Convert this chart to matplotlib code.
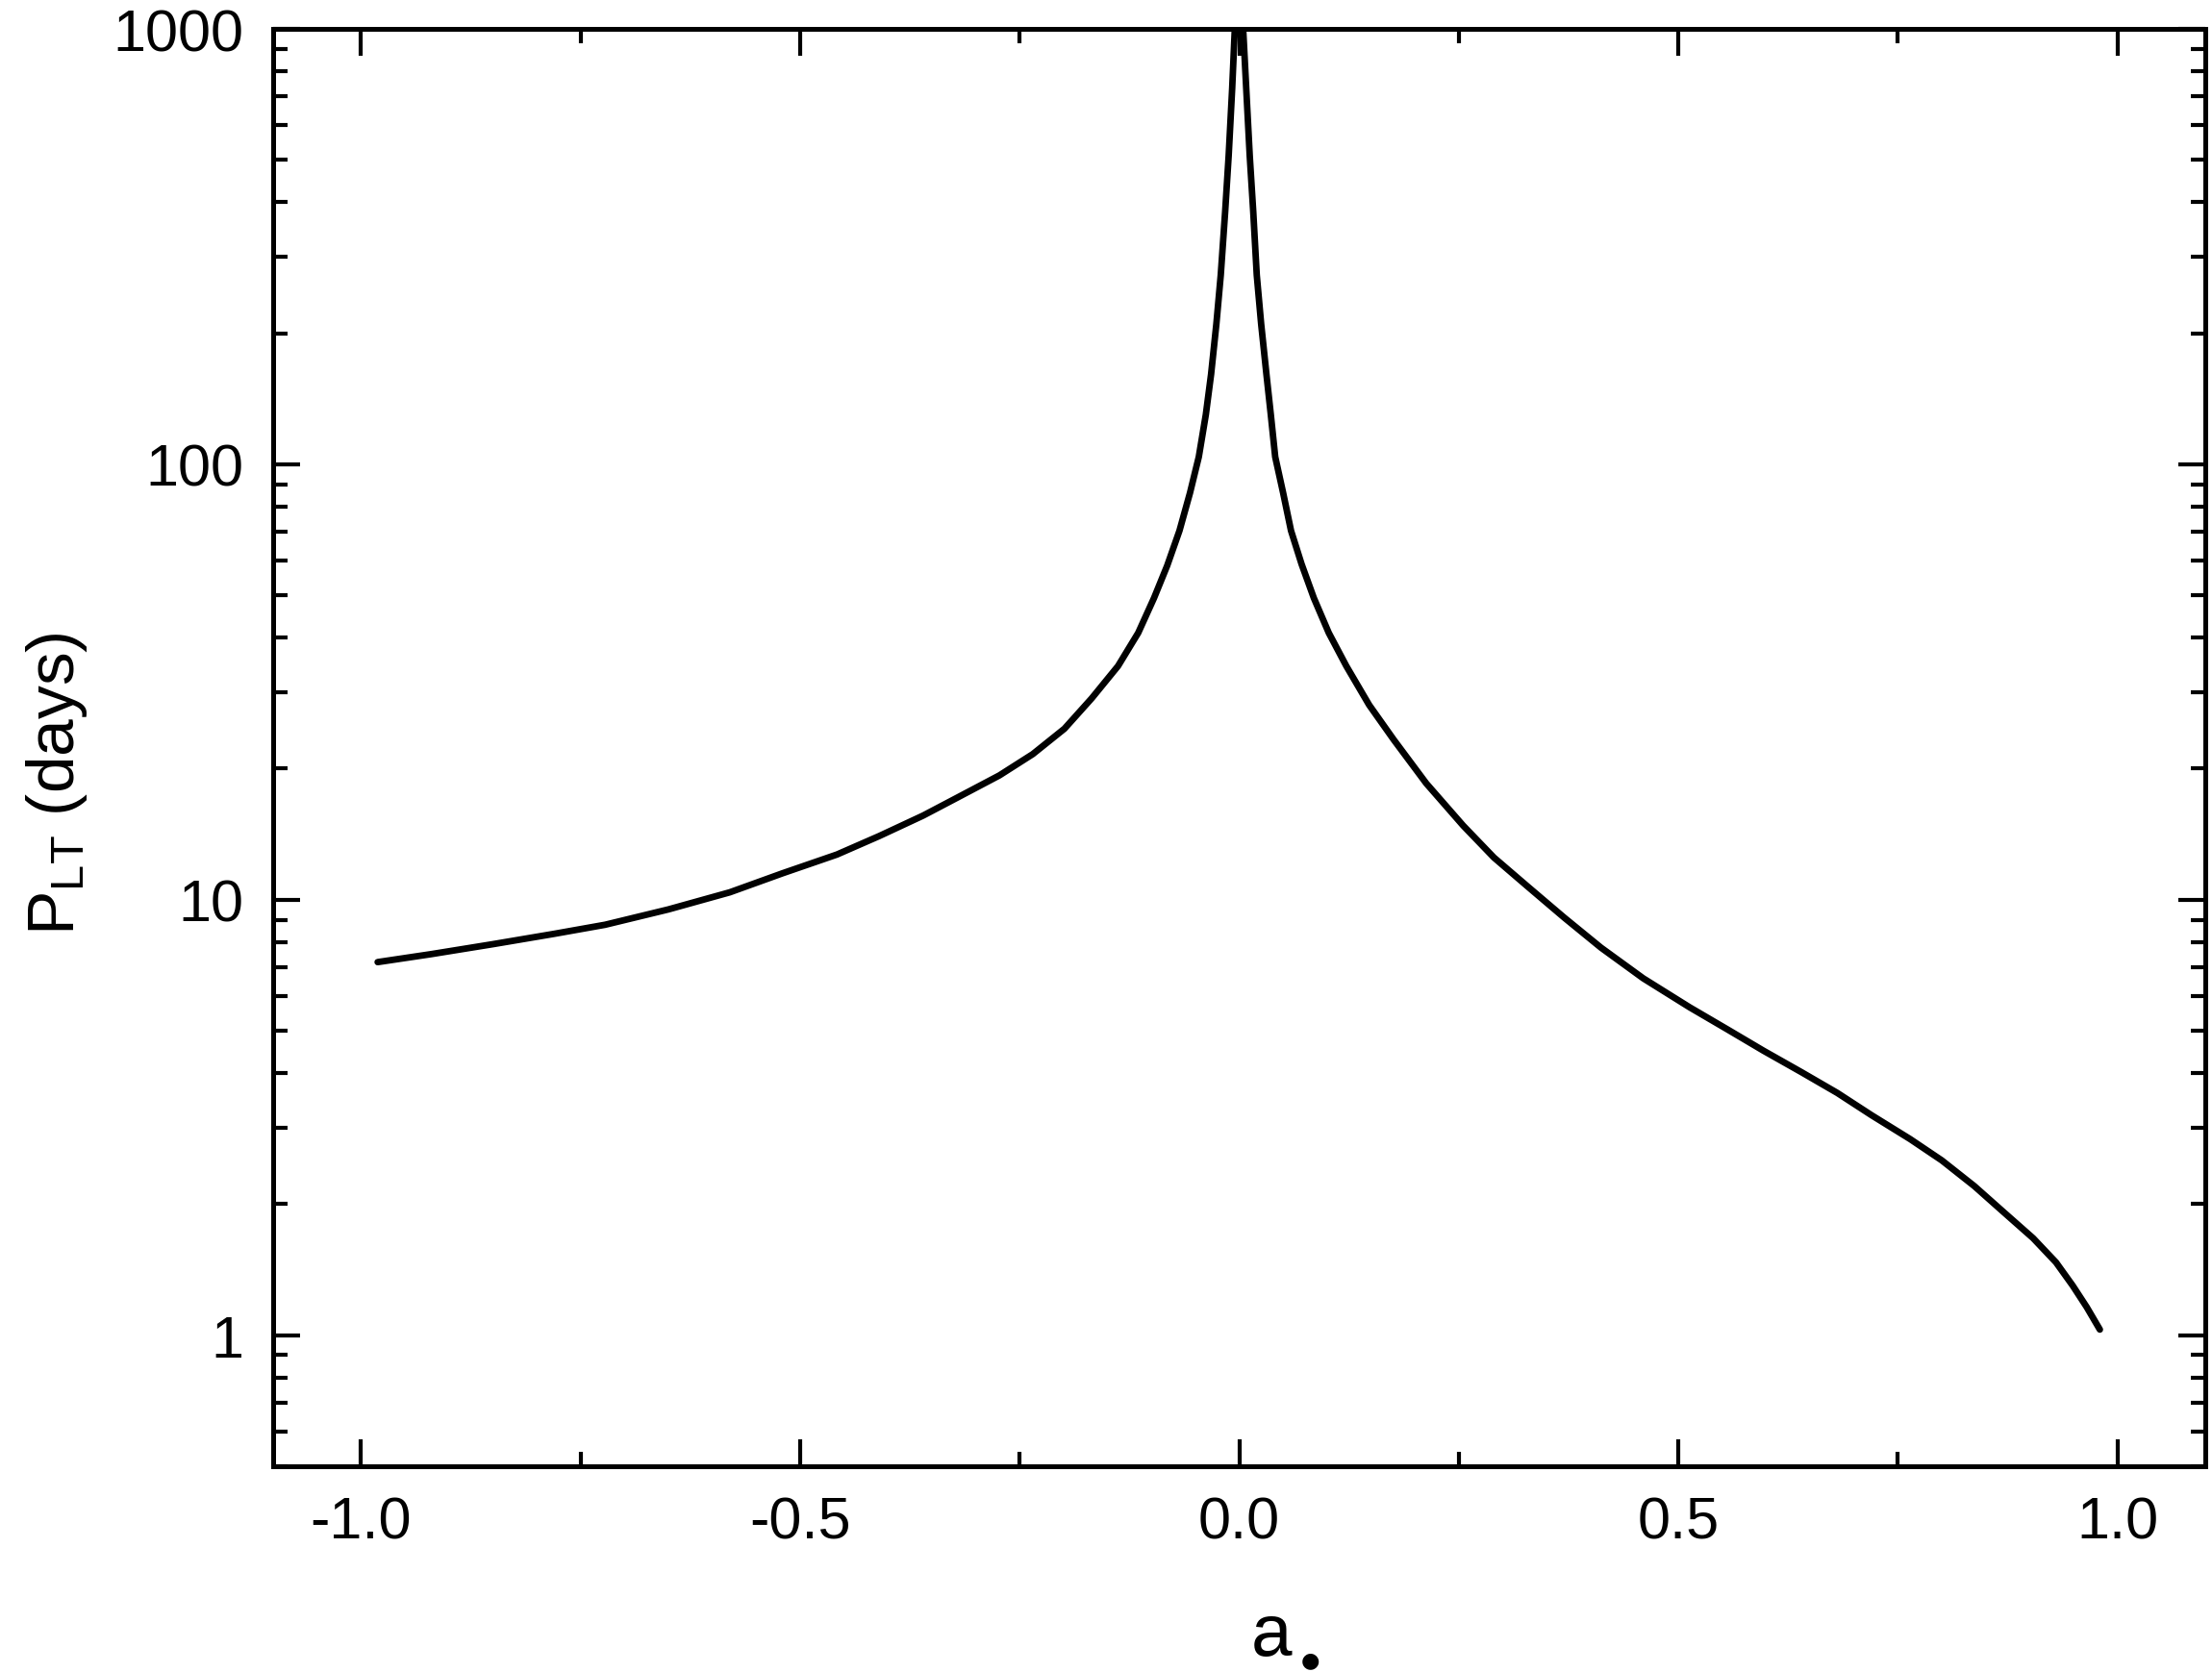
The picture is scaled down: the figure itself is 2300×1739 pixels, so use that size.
import matplotlib
matplotlib.use("Agg")
import matplotlib.pyplot as plt
from matplotlib.ticker import FixedLocator, FixedFormatter, LogLocator, NullFormatter, MultipleLocator
from matplotlib.textpath import TextPath
from matplotlib.font_manager import FontProperties

# ---- data ----
a_left = [-0.981, -0.92, -0.849, -0.78, -0.722, -0.65, -0.580, -0.52, -0.458, -0.41,
          -0.360, -0.32, -0.273, -0.235, -0.199, -0.168, -0.138, -0.115, -0.097,
          -0.082, -0.068, -0.056, -0.046, -0.038, -0.032, -0.026, -0.021, -0.016,
          -0.012, -0.008, -0.005, -0.003]
p_left = [7.19, 7.5, 7.91, 8.35, 8.76, 9.5, 10.4, 11.5, 12.7, 14.0,
          15.6, 17.2, 19.3, 21.6, 24.7, 29.0, 34.4, 41.0, 49.3,
          58.5, 70.4, 86, 104, 130, 161, 210, 272, 380,
          511, 730, 1000, 1300]

a_right = [0.003, 0.0045, 0.008, 0.012, 0.016, 0.020, 0.025, 0.031, 0.036, 0.041,
           0.050, 0.059, 0.071, 0.085, 0.102, 0.122, 0.148, 0.176, 0.213, 0.255,
           0.29, 0.329, 0.37, 0.412, 0.46, 0.513, 0.555, 0.597, 0.64, 0.681,
           0.72, 0.764, 0.80, 0.837, 0.87, 0.904, 0.93, 0.949, 0.965, 0.980]
p_right = [1300, 1000, 730, 511, 380, 272, 210, 161, 130, 104,
           86, 70.4, 59, 49.3, 41, 34.4, 28, 23.3, 18.5, 14.8,
           12.5, 10.7, 9.1, 7.76, 6.6, 5.66, 5.05, 4.50, 4.02, 3.60,
           3.2, 2.82, 2.52, 2.20, 1.92, 1.67, 1.47, 1.30, 1.16, 1.03]

x_ticks = [-1.0, -0.5, 0.0, 0.5, 1.0]
x_ticklabels = ["-1.0", "-0.5", "0.0", "0.5", "1.0"]
y_ticks = [1, 10, 100, 1000]
y_ticklabels = ["1", "10", "100", "1000"]

plt.rcParams['font.family'] = ['Liberation Sans', 'DejaVu Sans']
plt.rcParams['axes.unicode_minus'] = False
plt.rcParams['mathtext.fontset'] = 'custom'
plt.rcParams['mathtext.rm'] = 'Liberation Sans'
plt.rcParams['mathtext.it'] = 'Liberation Sans:italic'

W, H = 2300, 1740
fig = plt.figure(figsize=(W / 100, H / 100), dpi=100)
ax = fig.add_axes([284 / W, 1 - 1526 / H, (2293 - 284) / W, (1526 - 31) / H])

a_all = a_left + a_right
p_all = p_left + p_right
ax.plot(a_all, p_all, color='black', lw=4.9, solid_capstyle='round', solid_joinstyle='round')

ax.set_yscale('log')
ax.set_xlim(-1.1, 1.1)
ax.set_ylim(0.5, 1000)

ax.xaxis.set_major_locator(FixedLocator(x_ticks))
ax.xaxis.set_major_formatter(FixedFormatter(x_ticklabels))
ax.xaxis.set_minor_locator(MultipleLocator(0.25))
ax.yaxis.set_major_locator(FixedLocator(y_ticks))
ax.yaxis.set_major_formatter(FixedFormatter(y_ticklabels))
ax.yaxis.set_minor_locator(LogLocator(base=10, subs=[2, 3, 4, 5, 6, 7, 8, 9], numticks=20))
ax.yaxis.set_minor_formatter(NullFormatter())

for s in ax.spines.values():
    s.set_linewidth(3.6)

ax.tick_params(which='both', direction='in', top=True, right=True, colors='black')
ax.tick_params(which='major', length=20, width=3.0, labelsize=44, pad=22)
ax.tick_params(which='minor', length=11, width=3.0)

# axis labels
fig.text(25 / W, 1 - 815 / H, r'P$_{\mathrm{LT}}$ (days)', rotation=90,
         ha='left', va='center', fontsize=50)
fig.text(1322 / W, 1 - 1722 / H, 'a', ha='center', va='baseline', fontsize=55)

# subscript dot of the x label: size it from the glyph's own extents
dot = '\u25cf'
fp = FontProperties(family='DejaVu Sans')
ext = TextPath((0, 0), dot, size=100, prop=fp).get_extents()
diam_em = ext.height / 100.0
center_em = (ext.y0 + ext.y1) / 200.0
em_px = 17.0 / diam_em
size_pt = em_px * 72.0 / 100.0
center_px = 1727.0
baseline_px = center_px + center_em * em_px
# keep the text box (including descent) inside the figure
max_baseline = H - 1 - 0.24 * em_px
if baseline_px > max_baseline:
    baseline_px = max_baseline
fig.text(1362 / W, 1 - baseline_px / H, dot, ha='center', va='baseline',
         fontsize=size_pt, family='DejaVu Sans')

fig.savefig('out.png', dpi=100)
